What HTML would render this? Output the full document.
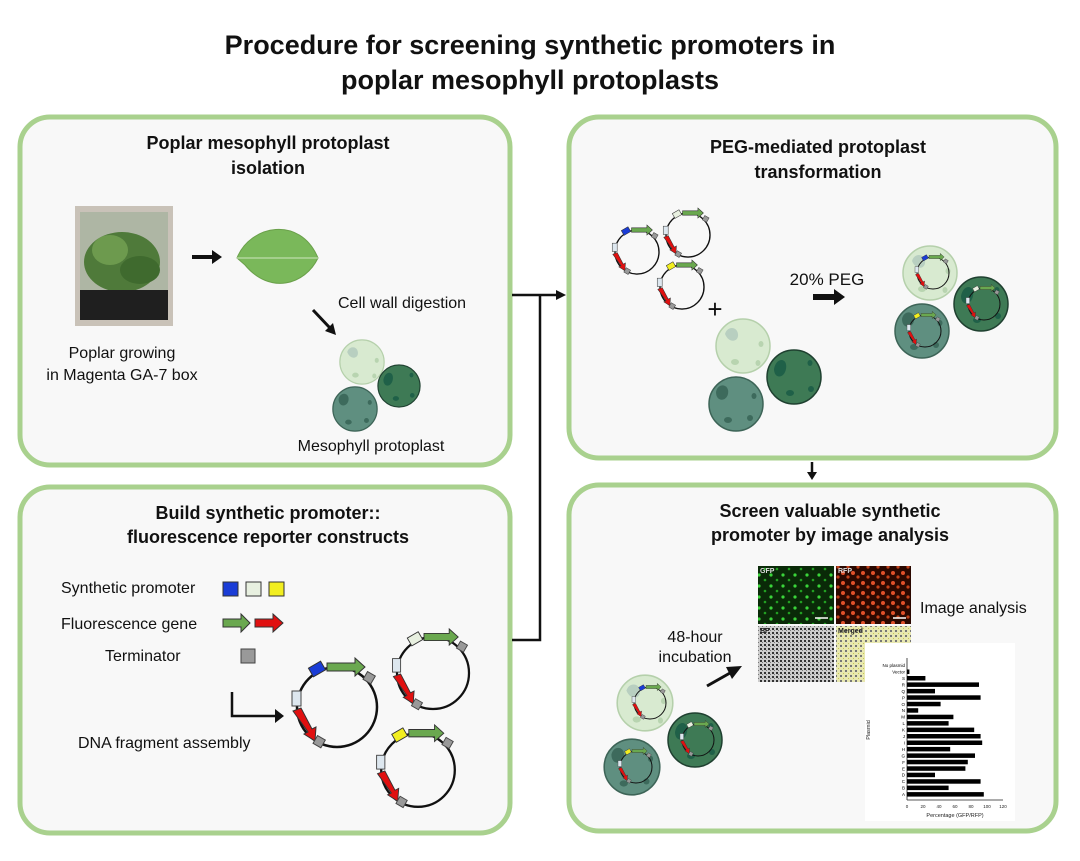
<!DOCTYPE html>
<html><head><meta charset="utf-8"><style>
html,body{margin:0;padding:0;background:#fff;}
svg{display:block;font-family:"Liberation Sans",Arial,sans-serif;}
</style></head><body>
<svg width="1080" height="861" viewBox="0 0 1080 861" xmlns="http://www.w3.org/2000/svg">
<defs>
<g id="pl">
 <circle cx="0" cy="0" r="40" fill="none" stroke="#111" stroke-width="2.5"/>
 <rect x="-27" y="-43" width="14" height="10" fill="currentColor" stroke="#333" stroke-width="1" transform="rotate(-30 -20 -38)"/>
 <polygon points="-10,-44 18,-44 18,-49 28,-40 18,-31 18,-36 -10,-36" fill="#6aa84f" stroke="#333" stroke-width="1"/>
 <rect x="28" y="-34" width="9" height="9" fill="#999" stroke="#444" stroke-width="1" transform="rotate(30 32 -30)"/>
 <rect x="-45" y="-16" width="9" height="15" fill="#dde7ef" stroke="#444" stroke-width="1"/>
 <polygon points="-44,4 -36,1 -25,22 -21,20 -22,34 -33,27 -29,25" fill="#e01010" stroke="#333" stroke-width="1"/>
 <rect x="-22" y="30" width="9" height="9" fill="#999" stroke="#444" stroke-width="1" transform="rotate(30 -18 34)"/>
</g>
<g id="cL"><circle r="27" fill="#d8ead0" stroke="#b5d0ab" stroke-width="1.5"/><path d="M-18,-12 C-16,-20 -6,-20 -5,-12 C-4,-4 -14,-2 -18,-12Z" fill="#b8cfc0"/><ellipse cx="-8" cy="16" rx="4" ry="3" fill="#b8d4b0"/><ellipse cx="18" cy="-2" rx="2.5" ry="3" fill="#b8d4b0"/><ellipse cx="15" cy="17" rx="2.5" ry="3" fill="#b8d4b0"/></g>
<g id="cD"><circle r="27" fill="#3e7a55" stroke="#1f4030" stroke-width="1.5"/><path d="M-20,-8 C-18,-20 -6,-20 -8,-8 C-10,2 -20,2 -20,-8Z" fill="#1f6048"/><ellipse cx="-4" cy="16" rx="4" ry="3" fill="#1f6048"/><ellipse cx="16" cy="-14" rx="2.5" ry="3" fill="#1f6048"/><ellipse cx="17" cy="12" rx="3" ry="3" fill="#1f6048"/></g>
<g id="cT"><circle r="27" fill="#5f8f80" stroke="#3d6457" stroke-width="1.5"/><path d="M-20,-12 C-18,-22 -6,-20 -8,-10 C-10,-2 -20,-2 -20,-12Z" fill="#3d6a5c"/><ellipse cx="-8" cy="16" rx="4" ry="3" fill="#3d6a5c"/><ellipse cx="18" cy="-8" rx="2.5" ry="3" fill="#3d6a5c"/><ellipse cx="14" cy="14" rx="3" ry="3" fill="#3d6a5c"/></g>
<pattern id="gfp" width="12" height="11" patternUnits="userSpaceOnUse"><rect width="12" height="11" fill="#0a2a08"/><circle cx="3" cy="3" r="1.6" fill="#3ad43a"/><circle cx="9" cy="8" r="1.3" fill="#22a022"/></pattern>
<pattern id="rfp" width="10" height="10" patternUnits="userSpaceOnUse"><rect width="10" height="10" fill="#2a0800"/><circle cx="3" cy="3" r="2" fill="#e0502a"/><circle cx="8" cy="7" r="1.6" fill="#c0401a"/></pattern>
<pattern id="bf" width="4" height="4" patternUnits="userSpaceOnUse"><rect width="4" height="4" fill="#ccc"/><rect width="2" height="2" fill="#333"/><rect x="2" y="2" width="1" height="1" fill="#777"/></pattern>
<pattern id="mg" width="5" height="5" patternUnits="userSpaceOnUse"><rect width="5" height="5" fill="#e8e8b0"/><rect width="2" height="2" fill="#777"/><rect x="3" y="3" width="1" height="1" fill="#c8c850"/></pattern>
</defs>
<rect width="1080" height="861" fill="#fff"/>
<text x="530" y="54" font-size="27" font-weight="bold" text-anchor="middle" fill="#111">Procedure for screening synthetic promoters in</text>
<text x="530" y="89" font-size="27" font-weight="bold" text-anchor="middle" fill="#111">poplar mesophyll protoplasts</text>

<g fill="#f8f8f8" stroke="#a9d18e" stroke-width="5">
<rect x="20" y="117" width="490" height="348" rx="30"/>
<rect x="569" y="117" width="487" height="341" rx="30"/>
<rect x="20" y="487" width="490" height="346" rx="30"/>
<rect x="569" y="485" width="487" height="346" rx="30"/>
</g>

<g stroke="#111" stroke-width="2.5" fill="none">
<line x1="512" y1="295" x2="556" y2="295"/>
<polyline points="540,295 540,640 512,640"/>
<line x1="812" y1="462" x2="812" y2="472"/>
</g>
<polygon points="556,290 566,295 556,300" fill="#111"/>
<polygon points="807,472 812,480 817,472" fill="#111"/>

<g font-size="18" font-weight="bold" text-anchor="middle" fill="#111">
<text x="268" y="149">Poplar mesophyll protoplast</text>
<text x="268" y="174">isolation</text>
<text x="818" y="153">PEG-mediated protoplast</text>
<text x="818" y="178">transformation</text>
<text x="268" y="519">Build synthetic promoter::</text>
<text x="268" y="543">fluorescence reporter constructs</text>
<text x="830" y="517">Screen valuable synthetic</text>
<text x="830" y="541">promoter by image analysis</text>
</g>
<rect x="75" y="206" width="98" height="120" fill="#c9c2b8"/>
<rect x="80" y="212" width="88" height="108" fill="#aeb6a4"/>
<ellipse cx="122" cy="262" rx="38" ry="30" fill="#4f7a3a"/>
<ellipse cx="110" cy="250" rx="18" ry="15" fill="#6d9a4e"/>
<ellipse cx="140" cy="270" rx="20" ry="14" fill="#3f6a2e"/>
<rect x="80" y="290" width="88" height="30" fill="#1f1f1f"/>
<polygon points="192,255 212,255 212,250 222,257 212,264 212,259 192,259" fill="#111"/>
<path d="M237,258 C250,225 300,215 318,258 C305,285 270,295 245,265 Z" fill="#7ab85a" stroke="#6aa04a"/>
<line x1="237" y1="258" x2="318" y2="258" stroke="#cfe6bf" stroke-width="1"/>
<text x="338" y="308" font-size="16" fill="#111">Cell wall digestion</text>
<line x1="313" y1="310" x2="330" y2="328" stroke="#111" stroke-width="3"/>
<polygon points="325,331 336,335 333,323" fill="#111"/>
<text x="122" y="358" font-size="16" text-anchor="middle" fill="#111">Poplar growing</text>
<text x="122" y="380" font-size="16" text-anchor="middle" fill="#111">in Magenta GA-7 box</text>
<use href="#cL" transform="translate(362,362) scale(0.82)"/>
<use href="#cD" transform="translate(399,386) scale(0.78)"/>
<use href="#cT" transform="translate(355,409) scale(0.82)"/>
<text x="371" y="451" font-size="16" text-anchor="middle" fill="#111">Mesophyll protoplast</text>

<use href="#pl" transform="translate(637,252) scale(0.55)" style="color:#1a3cd6"/>
<use href="#pl" transform="translate(688,235) scale(0.55)" style="color:#e8f0e0"/>
<use href="#pl" transform="translate(682,287) scale(0.55)" style="color:#f2ee20"/>
<text x="715" y="318" font-size="26" text-anchor="middle" fill="#111">+</text>
<use href="#cL" transform="translate(743,346)"/>
<use href="#cD" transform="translate(794,377)"/>
<use href="#cT" transform="translate(736,404)"/>
<use href="#cL" transform="translate(930,273)"/>
<use href="#cD" transform="translate(981,304)"/>
<use href="#cT" transform="translate(922,331)"/>
<use href="#pl" transform="translate(933,273) scale(0.4)" style="color:#1a3cd6"/>
<use href="#pl" transform="translate(984,304) scale(0.4)" style="color:#e8f0e0"/>
<use href="#pl" transform="translate(925,331) scale(0.4)" style="color:#f2ee20"/>
<text x="827" y="285" font-size="17" text-anchor="middle" fill="#111">20% PEG</text>
<polygon points="813,294 834,294 834,289 845,297 834,305 834,300 813,300" fill="#111"/>

<g font-size="16" fill="#111">
<text x="61" y="593">Synthetic promoter</text>
<text x="61" y="629">Fluorescence gene</text>
<text x="105" y="661">Terminator</text>
<text x="78" y="748">DNA fragment assembly</text>
</g>
<rect x="223" y="582" width="15" height="14" fill="#1a3cd6" stroke="#333"/>
<rect x="246" y="582" width="15" height="14" fill="#e8f0e0" stroke="#333"/>
<rect x="269" y="582" width="15" height="14" fill="#f2ee20" stroke="#333"/>
<polygon points="223,619 241,619 241,614 250,623 241,632 241,627 223,627" fill="#6aa84f" stroke="#333"/>
<polygon points="255,619 273,619 273,614 283,623 273,632 273,627 255,627" fill="#e01010" stroke="#333"/>
<rect x="241" y="649" width="14" height="14" fill="#999" stroke="#444"/>
<polyline points="232,692 232,716 275,716" stroke="#111" stroke-width="2.5" fill="none"/>
<polygon points="275,709 284,716 275,723" fill="#111"/>
<use href="#pl" transform="translate(337,707)" style="color:#1a3cd6"/>
<use href="#pl" transform="translate(433,673) scale(0.9)" style="color:#e8f0e0"/>
<use href="#pl" transform="translate(418,770) scale(0.92)" style="color:#f2ee20"/>

<use href="#cL" transform="translate(645,703) scale(1.03)"/>
<use href="#cD" transform="translate(695,740)"/>
<use href="#cT" transform="translate(632,767) scale(1.03)"/>
<use href="#pl" transform="translate(650,703) scale(0.4)" style="color:#1a3cd6"/>
<use href="#pl" transform="translate(698,740) scale(0.4)" style="color:#e8f0e0"/>
<use href="#pl" transform="translate(636,767) scale(0.4)" style="color:#f2ee20"/>
<text x="695" y="642" font-size="16" text-anchor="middle" fill="#111">48-hour</text>
<text x="695" y="662" font-size="16" text-anchor="middle" fill="#111">incubation</text>
<line x1="707" y1="686" x2="730" y2="673" stroke="#111" stroke-width="3"/>
<polygon points="726,667 742,666 732,679" fill="#111"/>
<rect x="758" y="566" width="76" height="58" fill="url(#gfp)"/>
<rect x="836" y="566" width="75" height="58" fill="url(#rfp)"/>
<rect x="758" y="626" width="76" height="56" fill="url(#bf)"/>
<rect x="836" y="626" width="75" height="56" fill="url(#mg)"/>
<g font-size="7" font-weight="bold" fill="#ddd"><text x="760" y="573">GFP</text><text x="838" y="573">RFP</text><text x="760" y="633" fill="#222">BF</text><text x="838" y="633" fill="#222">Merged</text></g>
<line x1="815" y1="618" x2="828" y2="618" stroke="#fff" stroke-width="1.5"/>
<line x1="893" y1="618" x2="906" y2="618" stroke="#fff" stroke-width="1.5"/>
<text x="920" y="613" font-size="16" fill="#111">Image analysis</text>

<rect x="865" y="643" width="150" height="178" fill="#fff"/>
<g font-size="4.5" fill="#222" text-anchor="end">
<line x1="907" y1="658" x2="907" y2="800" stroke="#222" stroke-width="0.8"/>
<line x1="907" y1="800" x2="1003" y2="800" stroke="#222" stroke-width="0.8"/>
<g fill="#000">
<text x="905" y="667">No plasmid</text>
<text x="905" y="673.5">Vector</text><rect x="907" y="669.5" width="2.4" height="4.5"/>
<text x="905" y="680">S</text><rect x="907" y="676" width="18.4" height="4.5"/>
<text x="905" y="686.4">R</text><rect x="907" y="682.4" width="72" height="4.5"/>
<text x="905" y="692.9">Q</text><rect x="907" y="688.9" width="28" height="4.5"/>
<text x="905" y="699.3">P</text><rect x="907" y="695.3" width="73.6" height="4.5"/>
<text x="905" y="705.8">O</text><rect x="907" y="701.8" width="33.6" height="4.5"/>
<text x="905" y="712.2">N</text><rect x="907" y="708.2" width="11.2" height="4.5"/>
<text x="905" y="718.7">M</text><rect x="907" y="714.7" width="46.4" height="4.5"/>
<text x="905" y="725.1">L</text><rect x="907" y="721.1" width="41.6" height="4.5"/>
<text x="905" y="731.6">K</text><rect x="907" y="727.6" width="67.2" height="4.5"/>
<text x="905" y="738">J</text><rect x="907" y="734" width="73.6" height="4.5"/>
<text x="905" y="744.5">I</text><rect x="907" y="740.5" width="75.2" height="4.5"/>
<text x="905" y="750.9">H</text><rect x="907" y="746.9" width="43.2" height="4.5"/>
<text x="905" y="757.4">G</text><rect x="907" y="753.4" width="68" height="4.5"/>
<text x="905" y="763.8">F</text><rect x="907" y="759.8" width="60.8" height="4.5"/>
<text x="905" y="770.3">E</text><rect x="907" y="766.3" width="58.4" height="4.5"/>
<text x="905" y="776.7">D</text><rect x="907" y="772.7" width="28" height="4.5"/>
<text x="905" y="783.2">C</text><rect x="907" y="779.2" width="73.6" height="4.5"/>
<text x="905" y="789.6">B</text><rect x="907" y="785.6" width="41.6" height="4.5"/>
<text x="905" y="796.1">A</text><rect x="907" y="792.1" width="76.8" height="4.5"/>
</g>
<g text-anchor="middle"><text x="907" y="808">0</text><text x="923" y="808">20</text><text x="939" y="808">40</text><text x="955" y="808">60</text><text x="971" y="808">80</text><text x="987" y="808">100</text><text x="1003" y="808">120</text></g>
<text x="955" y="817" text-anchor="middle" font-size="5.5">Percentage (GFP/RFP)</text>
<text x="0" y="0" text-anchor="middle" font-size="5.5" transform="translate(870,730) rotate(-90)">Plasmid</text>
</g>
</svg>
</body></html>
